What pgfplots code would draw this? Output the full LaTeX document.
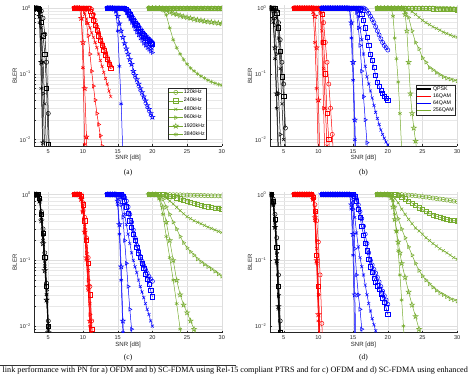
\documentclass[border=0pt]{standalone}
\usepackage{fontspec}
\setmainfont{Liberation Serif}
\newfontfamily\msans{Liberation Sans}
\usepackage{pgfplots}
\pgfplotsset{compat=1.18}
\usepackage{pgfplotstable}

\definecolor{mgreen}{rgb}{0.466,0.674,0.188}
\definecolor{axgray}{rgb}{0.15,0.15,0.15}

\pgfdeclareplotmark{pentagram}{%
 \pgfpathmoveto{\pgfpointpolar{90}{\pgfplotmarksize}}%
 \pgfpathlineto{\pgfpointpolar{126}{0.382\pgfplotmarksize}}%
 \pgfpathlineto{\pgfpointpolar{162}{\pgfplotmarksize}}%
 \pgfpathlineto{\pgfpointpolar{198}{0.382\pgfplotmarksize}}%
 \pgfpathlineto{\pgfpointpolar{234}{\pgfplotmarksize}}%
 \pgfpathlineto{\pgfpointpolar{270}{0.382\pgfplotmarksize}}%
 \pgfpathlineto{\pgfpointpolar{306}{\pgfplotmarksize}}%
 \pgfpathlineto{\pgfpointpolar{342}{0.382\pgfplotmarksize}}%
 \pgfpathlineto{\pgfpointpolar{18}{\pgfplotmarksize}}%
 \pgfpathlineto{\pgfpointpolar{54}{0.382\pgfplotmarksize}}%
 \pgfpathclose\pgfusepathqstroke}

\newcommand{\tickfont}{\msans\fontsize{5.6}{6}\selectfont}
\newcommand{\labfont}{\msans\fontsize{6.1}{7}\selectfont}

% ---------------- Panel A (OFDM, Rel-15 PTRS) ----------------
\pgfplotstableread{
x a b c d e f
3 1 1 1 1 1 1
3.25 1 1 1 1 1 1
3.5 1 1 1 1 0.98 0.97
3.75 0.98 0.95 0.9 0.85 0.75 0.6
4 0.9 0.6 0.5 0.35 0.15 0.06
4.25 0.7 0.38 0.15 0.05 0.009 0.004
4.5 0.4 0.2 0.035 0.006 nan nan
4.75 0.15 0.06 0.007 nan nan nan
5 0.025 0.0085 nan nan nan nan
5.25 0.003 nan nan nan nan nan
}\Ak
\pgfplotstableread{
x a b c d e f
8.75 1 1 1 1 1 1
9 1 1 1 1 1 1
9.25 1 1 1 1 1 1
9.5 1 1 1 1 1 1
9.75 1 1 1 1 0.7 0.95
10 1 1 0.95 1 0.3 0.124
10.25 1 1 0.8 0.9 0.06 0.0085
10.5 1 1 0.68 0.6 0.011 0.001
10.75 1 1 0.58 0.38 0.002 nan
11 1 0.9 0.5 0.2 nan nan
11.25 0.95 0.78 0.42 0.11 nan nan
11.5 0.8 0.65 0.36 0.065 nan nan
11.75 0.65 0.55 0.3 0.04 nan nan
12 0.52 0.46 0.25 0.025 nan nan
12.25 0.42 0.38 0.2 0.017 nan nan
12.5 0.35 0.32 0.16 0.0115 nan nan
12.75 0.29 0.27 0.13 0.008 nan nan
13 0.25 0.23 0.105 0.0055 nan nan
13.25 0.21 0.19 0.085 nan nan nan
13.5 0.177 0.165 0.07 nan nan nan
13.75 0.15 0.14 0.055 nan nan nan
14 0.13 0.12 0.045 nan nan nan
}\Ar
\pgfplotstableread{
x a b c d e f
13.5 1 1 1 1 1 1
13.75 1 1 1 1 1 1
14 1 1 1 1 1 1
14.25 1 1 1 1 1 1
14.5 1 1 1 1 0.97 1
14.75 1 1 1 1 0.9 0.9
15 1 1 1 1 0.75 0.45
15.25 1 1 1 1 0.58 0.13
15.5 1 1 1 1 0.45 0.035
15.75 1 1 1 1 0.36 0.006
16 1 1 0.97 0.95 0.29 nan
16.25 0.97 0.95 0.9 0.85 0.24 nan
16.5 0.92 0.88 0.82 0.76 0.2 nan
16.75 0.85 0.8 0.74 0.68 0.165 nan
17 0.77 0.72 0.66 0.6 0.14 nan
17.25 0.7 0.65 0.6 0.54 0.11 nan
17.5 0.64 0.59 0.54 0.48 0.095 nan
17.75 0.58 0.54 0.49 0.43 0.082 nan
18 0.53 0.49 0.44 0.39 0.07 nan
18.25 0.49 0.45 0.4 0.35 0.06 nan
18.5 0.45 0.41 0.37 0.32 0.052 nan
18.75 0.41 0.38 0.34 0.29 0.045 nan
19 0.38 0.35 0.31 0.27 0.039 nan
19.25 0.36 0.33 0.29 0.25 0.033 nan
19.5 0.34 0.31 0.27 0.235 0.029 nan
19.75 0.32 0.29 0.255 0.22 0.025 nan
20 0.3 0.28 0.24 0.21 0.022 nan
}\Ab
\pgfplotstableread{
x a b c d e f
19.5 1 1 1 1 1 1
20 1 1 1 1 1 1
20.5 1 1 1 1 1 1
21 1 1 1 1 1 0.98
21.5 1 1 1 1 0.97 0.92
22 1 1 1 1 0.92 0.78
22.5 1 1 1 1 0.87 0.5
23 1 1 1 1 0.83 0.33
23.5 1 1 1 1 0.8 0.25
24 1 1 1 1 0.77 0.2
24.5 1 1 1 0.995 0.74 0.165
25 1 1 1 0.99 0.72 0.14
25.5 1 1 1 0.99 0.7 0.122
26 1 1 1 0.985 0.68 0.11
26.5 1 1 1 0.98 0.66 0.1
27 1 1 1 0.98 0.65 0.092
27.5 1 1 1 0.975 0.63 0.086
28 1 1 1 0.975 0.62 0.08
28.5 1 1 1 0.97 0.61 0.076
29 1 1 1 0.97 0.6 0.072
29.5 1 1 1 0.965 0.59 0.069
30 1 1 1 0.965 0.58 0.067
}\Ag
% ---------------- Panel B (SC-FDMA, Rel-15 PTRS) ----------------
\pgfplotstableread{
x a b c d e f
3 1 1 1 1 1 1
3.25 1 1 1 1 0.98 0.97
3.5 1 1 1 0.9 0.7 0.6
3.75 1 0.98 0.95 0.55 0.25 0.17
4 0.9 0.85 0.7 0.2 0.05 0.03
4.25 0.6 0.5 0.35 0.05 0.007 0.004
4.5 0.33 0.22 0.12 0.012 nan nan
4.75 0.15 0.09 0.035 0.004 nan nan
5 0.07 0.045 0.01 nan nan nan
5.25 0.015 0.007 nan nan nan nan
}\Bk
\pgfplotstableread{
x a b c d e f
6.5 1 1 1 1 1 1
6.75 1 1 1 1 1 1
7 1 1 1 1 1 1
7.25 1 1 1 1 1 1
7.5 1 1 1 1 1 1
7.75 1 1 1 1 1 1
8 1 1 1 1 1 1
8.25 1 1 1 1 1 1
8.5 1 1 1 1 1 1
8.75 1 1 1 1 1 1
9 1 1 1 1 1 1
9.25 1 1 1 1 1 0.85
9.5 1 1 1 1 0.75 0.3
9.75 1 1 1 1 0.25 0.06
10 1 1 1 1 0.04 0.005
10.25 1 1 0.9 0.85 0.004 nan
10.5 0.9 0.8 0.45 0.3 nan nan
10.75 0.6 0.3 0.12 0.03 nan nan
11 0.3 0.1 0.03 0.003 nan nan
11.25 0.15 0.025 0.008 nan nan nan
11.5 0.07 0.01 0.002 nan nan nan
11.75 0.03 0.004 nan nan nan nan
12 0.012 nan nan nan nan nan
12.25 0.004 nan nan nan nan nan
}\Br
\pgfplotstableread{
x a b c d e f
10.5 1 1 1 1 1 1
10.75 1 1 1 1 1 1
11 1 1 1 1 1 1
11.25 1 1 1 1 1 1
11.5 1 1 1 1 1 1
11.75 1 1 1 1 1 1
12 1 1 1 1 1 1
12.25 1 1 1 1 1 1
12.5 1 1 1 1 1 1
12.75 1 1 1 1 1 1
13 1 1 1 1 1 1
13.25 1 1 1 1 1 1
13.5 1 1 1 1 1 1
13.75 1 1 1 1 1 1
14 1 1 1 1 1 1
14.25 1 1 1 1 1 1
14.5 1 1 1 1 0.97 0.95
14.75 1 1 1 1 0.6 0.35
15 1 1 1 1 0.15 0.08
15.25 1 1 1 1 0.02 0.01
15.5 1 1 1 0.85 0.002 0.001
15.75 1 1 0.75 0.5 nan nan
16 1 0.95 0.5 0.27 nan nan
16.25 1 0.8 0.33 0.11 nan nan
16.5 1 0.65 0.2 0.045 nan nan
16.75 0.97 0.5 0.13 0.02 nan nan
17 0.9 0.36 0.09 0.009 nan nan
17.25 0.83 0.27 0.07 0.004 nan nan
17.5 0.75 0.2 0.055 nan nan nan
17.75 0.67 0.16 0.043 nan nan nan
18 0.6 0.125 0.033 nan nan nan
18.25 0.52 0.095 0.026 nan nan nan
18.5 0.45 0.075 0.021 nan nan nan
18.75 0.39 0.065 0.017 nan nan nan
19 0.34 0.056 0.014 nan nan nan
19.25 0.3 0.05 0.012 nan nan nan
19.5 0.27 0.045 0.0105 nan nan nan
19.75 0.25 0.042 0.0092 nan nan nan
20 0.23 0.04 0.0083 nan nan nan
}\Bb
\pgfplotstableread{
x a b c d e f
18.5 1 1 1 1 1 1
19 1 1 1 1 1 1
19.5 1 1 1 1 1 1
20 1 1 1 1 1 1
20.5 1 1 1 1 1 1
20.75 nan nan nan nan nan 0.75
21 1 1 1 1 1 0.35
21.25 nan nan nan nan nan 0.17
21.5 1 1 1 1 1 0.075
21.75 nan nan nan nan nan 0.025
22 1 1 1 0.97 1 0.007
22.25 nan nan nan nan 0.97 nan
22.5 1 1 0.98 0.85 0.8 nan
22.75 nan nan nan nan 0.45 nan
23 1 1 0.95 0.72 0.15 nan
23.25 nan nan nan nan 0.05 nan
23.5 1 1 0.88 0.45 0.025 nan
23.75 nan nan nan nan 0.015 nan
24 1 1 0.8 0.3 0.0095 nan
24.25 nan nan nan nan 0.006 nan
24.5 1 1 0.72 0.24 nan nan
25 1 0.99 0.65 0.175 nan nan
25.5 1 0.985 0.6 0.15 nan nan
26 1 0.98 0.56 0.125 nan nan
26.5 1 0.975 0.52 0.115 nan nan
27 0.995 0.97 0.49 0.105 nan nan
27.5 0.99 0.965 0.46 0.097 nan nan
28 0.99 0.96 0.43 0.09 nan nan
28.5 0.985 0.955 0.41 0.086 nan nan
29 0.98 0.95 0.39 0.083 nan nan
29.5 0.975 0.945 0.37 0.08 nan nan
30 0.97 0.94 0.36 0.078 nan nan
}\Bg
% ---------------- Panel C (OFDM, enhanced PTRS) ----------------
\pgfplotstableread{
x a b c d e f
3 1 1 1 1 1 1
3.25 1 1 1 1 1 1
3.5 1 1 1 1 0.98 0.98
3.75 0.9 0.88 0.85 0.85 0.8 0.8
4 0.55 0.5 0.45 0.5 0.4 0.42
4.25 0.3 0.26 0.22 0.25 0.18 0.2
4.5 0.13 0.11 0.09 0.1 0.07 0.08
4.75 0.045 0.04 0.03 0.035 0.025 0.03
5 0.012 0.01 0.009 0.01 0.008 0.009
5.25 0.003 0.003 0.002 0.003 0.002 0.002
}\Ck
\pgfplotstableread{
x a b c d e f
8.75 1 1 1 1 1 1
9 1 1 1 1 1 1
9.25 1 1 1 1 1 1
9.5 1 1 1 1 1 1
9.75 0.95 0.93 0.9 0.88 0.85 0.85
10 0.75 0.7 0.65 0.6 0.55 0.55
10.25 0.45 0.4 0.35 0.3 0.27 0.26
10.5 0.22 0.2 0.16 0.13 0.11 0.1
10.75 0.11 0.09 0.07 0.05 0.04 0.035
11 0.04 0.03 0.022 0.015 0.012 0.01
11.25 0.012 0.009 0.006 0.004 0.003 0.003
11.5 0.004 nan nan nan nan nan
}\Cr
\pgfplotstableread{
x a b c d e f
13.5 1 1 1 1 1 1
13.75 1 1 1 1 1 1
14 1 1 1 1 1 1
14.25 1 1 1 1 1 1
14.5 1 1 1 1 1 1
14.75 1 1 1 1 1 0.95
15 1 1 1 1 0.8 0.7
15.25 1 1 1 0.9 0.35 0.25
15.5 1 1 0.9 0.7 0.08 0.05
15.75 0.97 0.95 0.7 0.45 0.012 0.008
16 0.9 0.8 0.5 0.2 0.003 nan
16.25 0.8 0.65 0.35 0.09 nan nan
16.5 0.65 0.52 0.25 0.04 nan nan
16.75 0.5 0.4 0.18 0.018 nan nan
17 0.38 0.32 0.13 0.009 nan nan
17.25 0.29 0.25 0.1 0.004 nan nan
17.5 0.22 0.2 0.08 nan nan nan
17.75 0.17 0.16 0.065 nan nan nan
18 0.14 0.13 0.05 nan nan nan
18.25 0.115 0.11 0.04 nan nan nan
18.5 0.097 0.09 0.033 nan nan nan
18.75 0.083 0.075 0.027 nan nan nan
19 0.072 0.062 0.022 nan nan nan
19.25 0.064 0.052 0.018 nan nan nan
19.5 0.057 0.043 0.015 nan nan nan
19.75 0.052 0.035 0.012 nan nan nan
20 0.048 0.028 0.01 nan nan nan
}\Cb
\pgfplotstableread{
x a b c d e f
19.5 1 1 1 1 1 1
20 1 1 1 1 1 1
20.5 1 1 1 1 1 1
21 1 1 0.99 0.97 0.9 0.85
21.5 1 1 0.95 0.85 0.65 0.5
22 1 0.98 0.88 0.65 0.38 0.23
22.5 0.998 0.955 0.8 0.5 0.2 0.11
23 0.995 0.93 0.72 0.38 0.1 0.05
23.5 0.992 0.895 0.64 0.3 0.05 0.022
24 0.99 0.86 0.57 0.23 0.03 0.009
24.5 0.985 0.83 0.51 0.185 0.021 0.004
25 0.98 0.8 0.46 0.155 0.016 nan
25.5 0.978 0.77 0.43 0.135 0.012 nan
26 0.975 0.74 0.4 0.12 0.009 nan
26.5 0.972 0.715 0.38 0.105 0.006 nan
27 0.97 0.69 0.36 0.095 nan nan
27.5 0.965 0.67 0.34 0.087 nan nan
28 0.96 0.65 0.32 0.08 nan nan
28.5 0.957 0.635 0.305 0.074 nan nan
29 0.955 0.62 0.29 0.068 nan nan
29.5 0.952 0.61 0.275 0.062 nan nan
30 0.95 0.6 0.265 0.057 nan nan
}\Cg
% ---------------- Panel D (SC-FDMA, enhanced PTRS) ----------------
\pgfplotstableread{
x a b c d e f
3 1 1 1 1 1 1
3.25 1 1 1 1 0.98 0.98
3.5 0.85 0.8 0.75 0.75 0.7 0.7
3.75 0.5 0.42 0.37 0.38 0.32 0.32
4 0.22 0.16 0.12 0.13 0.1 0.09
4.25 0.06 0.04 0.028 0.03 0.02 0.018
4.5 0.012 0.008 0.005 0.006 0.004 0.003
4.75 0.002 nan nan nan nan nan
}\Dk
\pgfplotstableread{
x a b c d e f
6.5 1 1 1 1 1 1
6.75 1 1 1 1 1 1
7 1 1 1 1 1 1
7.25 1 1 1 1 1 1
7.5 1 1 1 1 1 1
7.75 1 1 1 1 1 1
8 1 1 1 1 1 1
8.25 1 1 1 1 1 1
8.5 1 1 1 1 1 1
8.75 1 1 1 1 1 1
9 1 1 1 1 1 1
9.25 0.95 0.9 0.88 0.9 0.85 0.85
9.5 0.7 0.55 0.5 0.55 0.45 0.4
9.75 0.4 0.12 0.15 0.2 0.1 0.09
10 0.19 0.04 0.03 0.03 0.015 0.012
10.25 0.06 0.006 0.004 0.004 0.002 0.002
10.5 0.011 nan nan nan nan nan
10.75 0.002 nan nan nan nan nan
}\Dr
\pgfplotstableread{
x a b c d e f
10.5 1 1 1 1 1 1
10.75 1 1 1 1 1 1
11 1 1 1 1 1 1
11.25 1 1 1 1 1 1
11.5 1 1 1 1 1 1
11.75 1 1 1 1 1 1
12 1 1 1 1 1 1
12.25 1 1 1 1 1 1
12.5 1 1 1 1 1 1
12.75 1 1 1 1 1 1
13 1 1 1 1 1 1
13.25 1 1 1 1 1 1
13.5 1 1 1 1 1 1
13.75 1 1 1 1 1 1
14 1 1 1 1 1 1
14.25 1 1 1 1 1 1
14.5 1 1 1 1 1 1
14.75 1 1 1 1 0.7 0.6
15 1 1 0.8 0.6 0.25 0.12
15.25 0.97 0.95 0.45 0.15 0.03 0.006
15.5 0.85 0.8 0.26 0.06 0.002 nan
15.75 0.7 0.6 0.16 0.03 nan nan
16 0.55 0.45 0.11 0.018 nan nan
16.25 0.43 0.33 0.08 0.009 nan nan
16.5 0.33 0.24 0.06 0.004 nan nan
16.75 0.25 0.18 0.042 nan nan nan
17 0.18 0.14 0.03 nan nan nan
17.25 0.13 0.105 0.022 nan nan nan
17.5 0.1 0.08 0.017 nan nan nan
17.75 0.085 0.065 0.013 nan nan nan
18 0.073 0.054 0.0105 nan nan nan
18.25 0.064 0.047 0.0085 nan nan nan
18.5 0.055 0.041 0.007 nan nan nan
18.75 0.047 0.036 nan nan nan nan
19 0.04 0.031 nan nan nan nan
19.25 0.034 0.027 nan nan nan nan
19.5 0.029 0.023 nan nan nan nan
19.75 0.025 0.019 nan nan nan nan
20 0.0215 0.015 nan nan nan nan
}\Db
\pgfplotstableread{
x a b c d e f
18.5 1 1 1 1 1 1
19 1 1 1 1 1 1
19.5 1 1 1 1 1 1
20 1 1 1 1 1 1
20.25 nan nan nan nan 0.97 nan
20.5 1 1 0.97 0.9 0.9 1
20.75 nan nan nan nan 0.65 0.8
21 1 1 0.88 0.65 0.42 0.5
21.25 nan nan nan nan 0.28 0.28
21.5 1 0.97 0.75 0.43 0.19 0.14
21.75 nan nan nan nan 0.13 0.06
22 1 0.92 0.6 0.3 0.09 0.025
22.25 nan nan nan nan nan 0.01
22.5 0.99 0.86 0.5 0.22 0.055 0.004
23 0.98 0.8 0.42 0.16 0.033 nan
23.5 0.97 0.74 0.36 0.12 0.021 nan
24 0.96 0.68 0.31 0.09 0.014 nan
24.5 0.945 0.63 0.28 0.07 0.009 nan
25 0.93 0.59 0.25 0.058 0.006 nan
25.5 0.915 0.55 0.22 0.05 nan nan
26 0.9 0.52 0.2 0.044 nan nan
26.5 0.885 0.49 0.18 0.039 nan nan
27 0.87 0.47 0.165 0.035 nan nan
27.5 0.855 0.45 0.15 0.032 nan nan
28 0.84 0.43 0.14 0.03 nan nan
28.5 0.825 0.42 0.13 0.028 nan nan
29 0.81 0.41 0.12 0.026 nan nan
29.5 0.795 0.405 0.11 0.025 nan nan
30 0.78 0.4 0.104 0.024 nan nan
}\Dg

\newcommand{\six}[2]{%
 \addplot[#2,mark=o,forget plot] table[x=x,y=a]{#1};
 \addplot[#2,mark=square,forget plot] table[x=x,y=b]{#1};
 \addplot[#2,mark=x,forget plot] table[x=x,y=c]{#1};
 \addplot[#2,mark=triangle,mark options={rotate=-90},forget plot] table[x=x,y=d]{#1};
 \addplot[#2,mark=pentagram,mark options={scale=1.25},forget plot] table[x=x,y=e]{#1};
 \addplot[#2,mark=asterisk,forget plot] table[x=x,y=f]{#1};
}

\pgfplotsset{
 legend image code/.code={\draw[mark repeat=2,mark phase=2,#1] plot coordinates {(0bp,0bp) (7bp,0bp) (14bp,0bp)};},
 every axis plot/.append style={line width=0.5pt, mark size=2.1pt},
 blerpanel/.style={
  scale only axis, width=187.4bp, height=140.7bp, anchor=south west,
  xmin=3, xmax=30,
  axis x line=bottom, axis y line=left, axis line style={-, axgray, line width=0.4pt},
  xtick={5,10,15,20,25,30}, xticklabels={5,10,15,20,25,30},
  ytick={0.01,0.1,1},
  yticklabels={{10\textsuperscript{−2}},{10\textsuperscript{−1}},{10\textsuperscript{0}}},
  minor ytick={0.009,0.02,0.03,0.04,0.05,0.06,0.07,0.08,0.09,0.2,0.3,0.4,0.5,0.6,0.7,0.8,0.9},
  xmajorgrids, ymajorgrids, yminorgrids,
  major grid style={black!13, line width=0.3pt},
  minor grid style={black!9, line width=0.3pt},
  tick align=inside, major tick length=2bp, minor tick length=1.2bp,
  tick style={axgray, line width=0.3pt},
  xticklabel style={font=\tickfont, text=axgray},
  yticklabel style={font=\tickfont, text=axgray},
  xlabel={SNR [dB]}, ylabel={BLER},
  every axis x label/.style={at={(axis description cs:0.5,-0.087)},anchor=center,font=\labfont,text=axgray},
  every axis y label/.style={at={(axis description cs:-0.105,0.5)},rotate=90,anchor=center,font=\labfont,text=axgray},
  clip marker paths=true,
  legend cell align=left,
  legend style={draw=axgray, line width=0.3pt, fill=white,
    font=\msans\fontsize{5.3}{6}\selectfont, inner sep=0.8pt,
    nodes={inner sep=0.9pt}},
 }
}

\begin{document}
\begin{tikzpicture}
\useasboundingbox (0,0) rectangle (474bp,374bp);

% (a)
\begin{axis}[blerpanel, ymode=log, ymin=0.008, ymax=1.1, at={(34.4bp,228bp)},
  legend style={at={(0.919,0.05)},anchor=south east, row sep=1.3pt}]
 \six{\Ak}{black}
 \six{\Ar}{red}
 \six{\Ab}{blue}
 \six{\Ag}{mgreen}
 \addlegendimage{mgreen,mark=o}\addlegendentry{120kHz}
 \addlegendimage{mgreen,mark=square}\addlegendentry{240kHz}
 \addlegendimage{mgreen,mark=x}\addlegendentry{480kHz}
 \addlegendimage{mgreen,mark=triangle,mark options={rotate=-90}}\addlegendentry{960kHz}
 \addlegendimage{mgreen,mark=pentagram,mark options={scale=1.25}}\addlegendentry{1920kHz}
 \addlegendimage{mgreen,mark=asterisk}\addlegendentry{3840kHz}
\end{axis}

% (b)
\begin{axis}[blerpanel, ymode=log, ymin=0.008, ymax=1.1, at={(269.8bp,228bp)},
  legend style={at={(0.992,0.22)},anchor=south east, row sep=0.2pt}]
 \six{\Bk}{black}
 \six{\Br}{red}
 \six{\Bb}{blue}
 \six{\Bg}{mgreen}
 \addlegendimage{black,line width=1.3pt,no marks}\addlegendentry{QPSK}
 \addlegendimage{red,line width=1.3pt,no marks}\addlegendentry{16QAM}
 \addlegendimage{blue,line width=1.3pt,no marks}\addlegendentry{64QAM}
 \addlegendimage{mgreen,line width=1.3pt,no marks}\addlegendentry{256QAM}
\end{axis}

% (c)
\begin{axis}[blerpanel, ymode=log, ymin=0.008, ymax=1.1, at={(34.4bp,41.5bp)}]
 \six{\Ck}{black}
 \six{\Cr}{red}
 \six{\Cb}{blue}
 \six{\Cg}{mgreen}
\end{axis}

% (d)
\begin{axis}[blerpanel, ymode=log, ymin=0.008, ymax=1.1, at={(269.8bp,41.5bp)}]
 \six{\Dk}{black}
 \six{\Dr}{red}
 \six{\Db}{blue}
 \six{\Dg}{mgreen}
\end{axis}

\node[font=\fontsize{7.5}{8}\selectfont] at (128.1bp,201.5bp) {(a)};
\node[font=\fontsize{7.5}{8}\selectfont] at (363.5bp,201.5bp) {(b)};
\node[font=\fontsize{7.5}{8}\selectfont] at (128.1bp,16bp) {(c)};
\node[font=\fontsize{7.5}{8}\selectfont] at (363.5bp,16bp) {(d)};
\draw[black!80, line width=0.5pt] (0bp,8.6bp) -- (236bp,8.6bp);
\node[anchor=base west, inner sep=0pt, font=\fontsize{8.2}{9}\selectfont] at (2.5bp,2bp)
 {link performance with PN for a) OFDM and b) SC-FDMA using Rel-15 compliant PTRS and for c) OFDM and d) SC-FDMA using enhanced};
\end{tikzpicture}
\end{document}
